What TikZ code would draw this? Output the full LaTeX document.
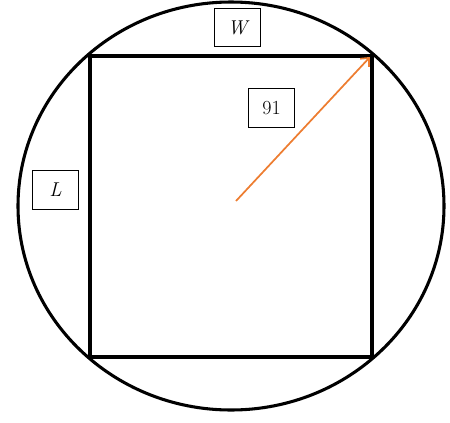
\documentclass[tikz,border=0pt]{standalone}
\usepackage{fontspec}
\usetikzlibrary{arrows.meta}
\begin{document}
\begin{tikzpicture}[x=0.75pt,y=-0.75pt,
    label box/.style={draw,line width=0.6pt,minimum width=35pt,minimum height=29pt,inner sep=0pt,font=\fontsize{15}{18}\selectfont}]
  \useasboundingbox (0,0) rectangle (450,422);
  \draw[line width=2.3pt] (231,206) ellipse [x radius=213, y radius=204];
  \draw
    (90,56) coordinate (tl)
    (372,56) coordinate (tr)
    (372,357) coordinate (br)
    (90,357) coordinate (bl)
    (236,201) coordinate (c);
  \draw[line width=3pt] (tl) -- (tr) -- (br) -- (bl) -- cycle;
  \node[label box] (w) at (237.5,27.5) {\itshape W};
  \node[label box] (l) at (55.5,190) {\itshape L};
  \node[label box] (r) at (271.5,108) {91};
  \begin{scope}[color={rgb,255:red,237;green,125;blue,49}]
    \draw[line width=1.3pt,-{Straight Barb[length=5pt,width=9pt]}] (c) to ([shift={(-2,1)}]tr);
  \end{scope}
\end{tikzpicture}
\end{document}
